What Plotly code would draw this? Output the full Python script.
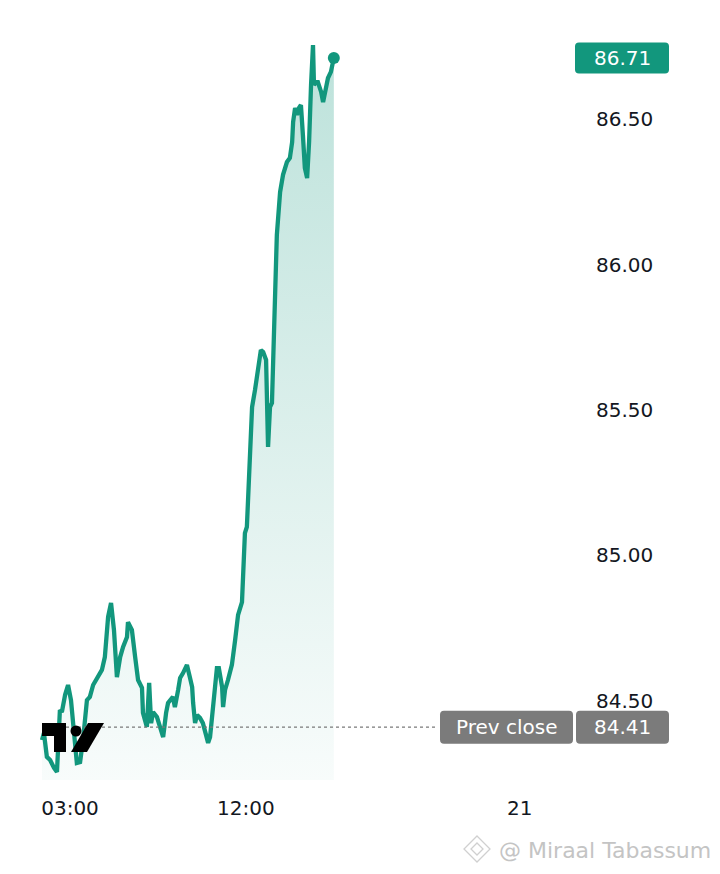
import plotly.graph_objects as go

# minutes relative to 03:00
minutes = [-86, -80, -71, -61, -49, -40, -31, -25, -15, -6, 3, 12, 21, 31, 40, 52, 61, 71, 83, 92,
           98, 107, 117, 126, 135, 144, 154, 163, 175, 178, 190, 200, 209, 221, 224, 236, 243, 249, 255, 267,
           276, 286, 295, 301, 316, 322, 332, 338, 347, 359, 368, 375, 378, 384, 390, 399, 408, 414, 424, 430,
           439, 451, 457, 467, 470, 476, 485, 497, 507, 516, 528, 537, 543, 553, 559, 568, 577, 586, 593, 602,
           608, 614, 620, 626, 635, 645, 654, 666, 675, 682, 685, 691, 697, 703, 709, 715, 721, 728, 734, 740,
           746, 749, 755, 761, 771, 777, 786, 792, 801, 810]
prices = [84.366, 84.390, 84.308, 84.297, 84.270, 84.256, 84.469, 84.462, 84.521, 84.555, 84.503, 84.383, 84.287, 84.290, 84.366, 84.503, 84.514, 84.555, 84.579, 84.600,
          84.607, 84.651, 84.789, 84.837, 84.744, 84.582, 84.651, 84.686, 84.720, 84.771, 84.744, 84.651, 84.572, 84.545, 84.459, 84.411, 84.562, 84.424, 84.462, 84.445,
          84.411, 84.376, 84.459, 84.493, 84.514, 84.479, 84.538, 84.579, 84.596, 84.624, 84.582, 84.548, 84.493, 84.424, 84.452, 84.442, 84.424, 84.400, 84.356, 84.376,
          84.493, 84.613, 84.613, 84.548, 84.479, 84.538, 84.572, 84.624, 84.710, 84.796, 84.840, 85.077, 85.098, 85.397, 85.510, 85.569, 85.648, 85.706, 85.699, 85.672,
          85.373, 85.510, 85.524, 85.741, 86.101, 86.249, 86.308, 86.352, 86.366, 86.421, 86.490, 86.538, 86.514, 86.538, 86.548, 86.445, 86.332, 86.297, 86.421, 86.617,
          86.754, 86.617, 86.627, 86.627, 86.593, 86.558, 86.607, 86.641, 86.662, 86.710]

last_price = 86.71
prev_close = 84.41
y_ticks = [84.50, 85.00, 85.50, 86.00, 86.50]
x_tick_vals = [0, 540, 1381]
x_tick_labels = ["03:00", "12:00", "21"]

GREEN = "#12977d"
GREY = "#7b7b7b"
FONT = "DejaVu Sans"

OFF = 8  # page offset of the figure inside the window
W, H = 720 - OFF, 874 - OFF
L, R, T, B = 0, 130, 12, 94
PW = W - L - R
PH = H - T - B
Y0, Y1 = 84.2285, 86.8402
PX_PER_UNIT = PH / (Y1 - Y0)


def px2paper(px):
    return (px - OFF - L) / PW


def ppy(py):
    return (H - B - (py - OFF)) / PH


fig = go.Figure()
fig.add_trace(go.Scatter(
    x=minutes, y=prices, mode="lines",
    line=dict(color=GREEN, width=4.3),
    fill="tozeroy",
    fillgradient=dict(type="vertical",
                      colorscale=[[0, "rgba(18,151,125,0.03)"], [1, "rgba(18,151,125,0.28)"]],
                      start=Y0, stop=86.75),
    hoverinfo="skip", showlegend=False))
fig.add_trace(go.Scatter(
    x=[minutes[-1]], y=[prices[-1]], mode="markers",
    marker=dict(color=GREEN, size=12), hoverinfo="skip", showlegend=False))


def rounded_box(x0px, x1px, yc, half_px, r_px, color):
    x0, x1 = px2paper(x0px), px2paper(x1px)
    rx = r_px / PW
    ry = r_px / PX_PER_UNIT
    hy = half_px / PX_PER_UNIT
    y0, y1 = yc - hy, yc + hy
    path = (f"M{x0+rx},{y0} L{x1-rx},{y0} Q{x1},{y0} {x1},{y0+ry} L{x1},{y1-ry} "
            f"Q{x1},{y1} {x1-rx},{y1} L{x0+rx},{y1} Q{x0},{y1} {x0},{y1-ry} "
            f"L{x0},{y0+ry} Q{x0},{y0} {x0+rx},{y0} Z")
    return dict(type="path", path=path, xref="paper", yref="y",
                fillcolor=color, line=dict(width=0), layer="above")


shapes = []
# previous close dotted line
shapes.append(dict(type="line", xref="paper", yref="y", x0=px2paper(42), x1=px2paper(438),
                   y0=prev_close, y1=prev_close, line=dict(color="#7a7a7a", width=1.3, dash="dot"),
                   layer="above"))
shapes.append(rounded_box(575, 669, last_price, 15.5, 4, GREEN))
shapes.append(rounded_box(440, 573, prev_close, 16.5, 4, GREY))
shapes.append(rounded_box(576, 669, prev_close, 16.5, 4, GREY))

lx = px2paper
# TradingView logo
shapes.append(dict(type="path", xref="paper", yref="paper", layer="above",
                   path=f"M{lx(42)},{ppy(723)} L{lx(66)},{ppy(723)} L{lx(66)},{ppy(752)} L{lx(54)},{ppy(752)} "
                        f"L{lx(54)},{ppy(736)} L{lx(42)},{ppy(736)} Z",
                   fillcolor="#000000", line=dict(width=0)))
shapes.append(dict(type="circle", xref="paper", yref="paper", layer="above",
                   x0=lx(70.5), x1=lx(81.5), y0=ppy(736.5), y1=ppy(725.5),
                   fillcolor="#000000", line=dict(width=0)))
shapes.append(dict(type="path", xref="paper", yref="paper", layer="above",
                   path=f"M{lx(88)},{ppy(723)} L{lx(104)},{ppy(723)} L{lx(87)},{ppy(752)} L{lx(71)},{ppy(752)} Z",
                   fillcolor="#000000", line=dict(width=0)))

# watermark diamond icon
cx, cy = 477, 849
for d in (13, 6):
    shapes.append(dict(type="path", xref="paper", yref="paper", layer="above",
                       path=f"M{lx(cx)},{ppy(cy-d)} L{lx(cx+d)},{ppy(cy)} L{lx(cx)},{ppy(cy+d)} L{lx(cx-d)},{ppy(cy)} Z",
                       line=dict(color="#d0d0d0", width=1.3)))

annotations = [
    dict(x=px2paper(622), y=last_price, xref="paper", yref="y", text=f"{last_price:.2f}",
         showarrow=False, font=dict(family=FONT, size=20, color="white"), xanchor="center", yanchor="middle"),
    dict(x=px2paper(506.5), y=prev_close, xref="paper", yref="y", text="Prev close",
         showarrow=False, font=dict(family=FONT, size=20, color="white"), xanchor="center", yanchor="middle"),
    dict(x=px2paper(622.5), y=prev_close, xref="paper", yref="y", text=f"{prev_close:.2f}",
         showarrow=False, font=dict(family=FONT, size=20, color="white"), xanchor="center", yanchor="middle"),
    dict(x=px2paper(713), y=ppy(850), xref="paper", yref="paper", text="@ Miraal Tabassum",
         showarrow=False, font=dict(family=FONT, size=22, color="#c4c4c4"), xanchor="right", yanchor="middle"),
]

fig.update_layout(
    width=W, height=H,
    margin=dict(l=L, r=R, t=T, b=B),
    paper_bgcolor="white", plot_bgcolor="white",
    shapes=shapes, annotations=annotations,
    xaxis=dict(range=[(OFF + L - 70) * 3.07, (W - R + OFF - 70) * 3.07],
               tickvals=x_tick_vals, ticktext=x_tick_labels,
               showgrid=False, zeroline=False, showline=False, ticks="",
               ticklabelstandoff=14,
               tickfont=dict(family=FONT, size=20, color="#131722")),
    yaxis=dict(range=[Y0, Y1], side="right", tickvals=y_ticks, tickformat=".2f",
               showgrid=False, zeroline=False, showline=False, ticks="",
               ticklabelstandoff=5,
               tickfont=dict(family=FONT, size=20, color="#131722")),
)

fig.write_html("out.html")
